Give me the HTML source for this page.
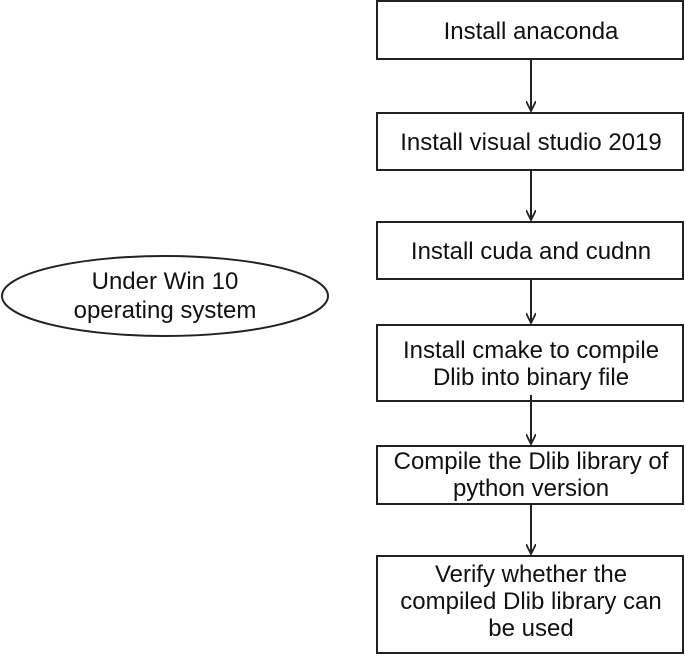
<!DOCTYPE html>
<html><head><style>
html,body{margin:0;padding:0;background:#fff;}
body{width:685px;height:654px;overflow:hidden;}
</style></head><body>
<svg width="685" height="654" viewBox="0 0 685 654" xmlns="http://www.w3.org/2000/svg" font-family="Liberation Sans, Arial, sans-serif" font-size="24" fill="#111">
<defs><marker id="a" markerWidth="12" markerHeight="10" refX="10" refY="5" orient="auto" markerUnits="userSpaceOnUse"><path d="M0,0 L10,5 L0,10" fill="none" stroke="#222" stroke-width="1.8"/></marker></defs>
<g fill="#fff" stroke="#222" stroke-width="2">
<rect x="377" y="1" width="306" height="58"/>
<rect x="377" y="113" width="306" height="57"/>
<rect x="377" y="222" width="306" height="57"/>
<rect x="377" y="325" width="306" height="76"/>
<rect x="377" y="446" width="306" height="58"/>
<rect x="377" y="556" width="306" height="97"/>
<ellipse cx="165" cy="296" rx="163" ry="40"/>
</g>
<g stroke="#222" stroke-width="2" marker-end="url(#a)">
<line x1="531" y1="59" x2="531" y2="111"/>
<line x1="531" y1="170" x2="531" y2="220"/>
<line x1="531" y1="279" x2="531" y2="323"/>
<line x1="531" y1="395" x2="531" y2="444"/>
<line x1="531" y1="504" x2="531" y2="554"/>
</g>
<g text-anchor="middle" stroke="none">
<text x="531" y="39">Install anaconda</text>
<text x="531" y="150">Install visual studio 2019</text>
<text x="531" y="259">Install cuda and cudnn</text>
<text x="531" y="358">Install cmake to compile</text>
<text x="531" y="385">Dlib into binary file</text>
<text x="531" y="469">Compile the Dlib library of</text>
<text x="531" y="496">python version</text>
<text x="531" y="582">Verify whether the</text>
<text x="531" y="609">compiled Dlib library can</text>
<text x="531" y="636">be used</text>
<text x="165" y="289">Under Win 10</text>
<text x="165" y="318">operating system</text>
</g>
</svg>
</body></html>
